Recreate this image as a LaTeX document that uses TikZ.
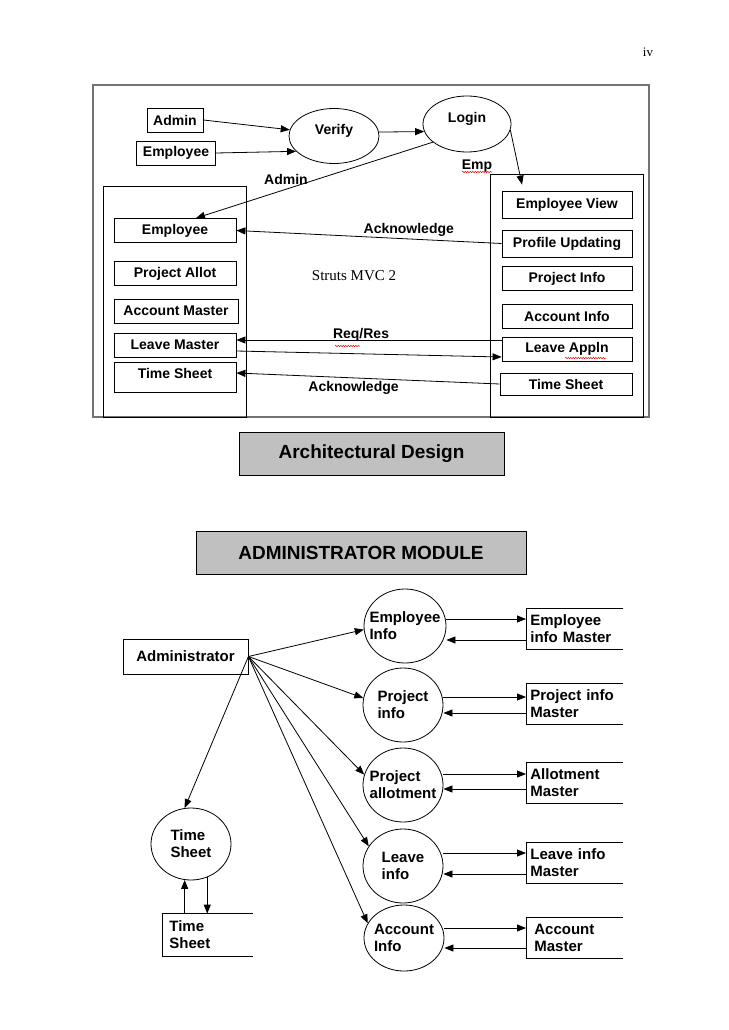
\documentclass[tikz,border=0pt]{standalone}
\usepackage{fontspec}
\setmainfont{Liberation Sans}
\newfontfamily\serifface{Liberation Serif}
\usetikzlibrary{arrows.meta, shapes.geometric, decorations.pathmorphing}
\newcommand\diagtop{\fontsize{14}{16}\selectfont\bfseries}
\newcommand\diaglow{\fontsize{15}{17}\selectfont\bfseries}
\newcommand\diaghead{\fontsize{19}{22}\selectfont\bfseries}
\definecolor{headgray}{RGB}{192,192,192}

\begin{document}
\begin{tikzpicture}[x=1pt,y=-1pt,>={Triangle[length=9pt,width=7pt]},line width=0.8pt,
  box/.style={draw,rectangle,font=\diagtop,minimum height=24pt,inner sep=2pt},
  lbox/.style={box,minimum width=122pt},
  rbox/.style={box,minimum width=130pt},
  oval/.style={draw,ellipse,font=\diagtop,inner sep=0pt,text depth=14pt},
  bubble/.style={draw,ellipse,font=\diaglow,align=left,inner sep=-10pt,minimum width=80pt,minimum height=74pt},
  store/.style={font=\diaglow,align=left,anchor=west,text width=88pt,inner xsep=4pt,minimum height=40pt},
  head/.style={draw,fill=headgray,font=\diaghead,minimum height=43pt},
  lab/.style={font=\diagtop},
  squiggle/.style={red,line width=0.5pt,decorate,decoration={snake,amplitude=0.7pt,segment length=2.5pt}}]

  \useasboundingbox (0,0) rectangle (728,1030);
  \node[font=\serifface\fontsize{13}{15}\selectfont] (page) at (648,52) {iv};

  % architectural design
  \draw[black!55,line width=2pt] (93,85) rectangle (649,417);
  \draw (103,186) rectangle (246,417);
  \draw (490,174) rectangle (643,417);

  \node[box,minimum width=56pt] (admin) at (175,120) {Admin};
  \node[box,minimum width=79pt] (emp) at (176,153) {Employee};
  \node[oval,minimum width=90pt,minimum height=55pt] (verify) at (334,136) {Verify};
  \node[oval,minimum width=88pt,minimum height=56pt] (login) at (467,124) {Login};

  \node[lbox] (lemp) at (175,230.5) {Employee};
  \node[lbox] (lalot) at (175,273.5) {Project Allot};
  \node[lbox,minimum width=124pt] (lacc) at (176,311) {Account Master};
  \node[lbox] (lleave) at (175,345) {Leave Master};
  \node[lbox,minimum height=30pt,text depth=8pt] (ltime) at (175,377) {Time Sheet};

  \node[rbox,minimum height=27pt] (ev) at (567,204.5) {Employee View};
  \node[rbox,minimum height=27pt] (pu) at (567,243.5) {Profile Updating};
  \node[rbox] (pi) at (567,278.5) {Project Info};
  \node[rbox] (ai) at (567,316) {Account Info};
  \node[rbox] (la) at (567,349) {Leave Appln};
  \node[rbox,minimum width=132pt,minimum height=22pt] (rtime) at (566,384) {Time Sheet};

  \node[font=\serifface\fontsize{15}{17}\selectfont] (struts) at (354,276) {Struts MVC 2};
  \node[lab] (emplab) at (477,166) {Emp};

  \path[->] (admin.east) edge (verify.172)
    (emp.east) edge (verify.202)
    (verify.5) edge (login.190)
    (login.208) edge node[lab,pos=0.62,above=1pt] (adminlab) {Admin} ([xshift=21pt]lemp.north)
    (login.352) edge ([shift={(-45pt,6pt)}]ev.north)
    (pu.west) edge node[lab,pos=0.35,above=-1pt] (acklab) {Acknowledge} (lemp.east)
    ([yshift=9pt]la.west) edge node[lab,pos=0.53,above=-5pt] (reqlab) {Req/Res} ([yshift=5pt]lleave.east)
    ([yshift=-6pt]lleave.east) edge ([yshift=-8pt]la.west)
    (rtime.west) edge node[lab,pos=0.555,below] (acklab2) {Acknowledge} ([yshift=4pt]ltime.east);

  \draw[squiggle] (462,172) -- (492,172);
  \draw[squiggle] (335,346) -- (360,346);
  \draw[squiggle] (565,358) -- (606,358);

  \node[head,minimum width=265pt] (archtitle) at (371.5,453.5) {Architectural Design};
  \node[head,minimum width=330pt] (modtitle) at (361,552.5) {ADMINISTRATOR MODULE};

  % administrator module
  \node[box,font=\diaglow,minimum width=125pt,minimum height=35pt] (adm) at (185.5,656.5) {Administrator};
  \node[bubble,minimum width=82pt] (einfo) at (405,626) {Employee\\Info};
  \node[bubble] (pinfo) at (403,705) {Project\\info};
  \node[bubble] (palo) at (403,785) {Project\\allotment};
  \node[bubble] (linfo) at (403,866) {Leave\\info};
  \node[bubble,minimum height=66pt] (ainfo) at (404,938) {Account\\Info};
  \node[bubble,minimum height=72pt] (tsc) at (191,844) {Time\\Sheet};

  \node[store] (eim) at (526,629) {Employee\\info Master};
  \node[store] (pim) at (526,703.5) {Project info\\Master};
  \node[store] (alm) at (526,783) {Allotment\\Master};
  \node[store] (lim) at (526,862.5) {Leave info\\Master};
  \node[store] (acm) at (526,938) {\hspace{4pt}Account\\\hspace{4pt}Master};
  \node[store,text width=76pt,inner xsep=7pt,minimum height=42pt] (tss) at (162,935) {Time\\Sheet};

  \foreach \s in {eim,pim,alm,lim,acm,tss}
    \draw (\s.north east) -- (\s.north west) -- (\s.south west) -- (\s.south east);

  \path[->] (adm.east) edge (einfo.185)
    edge (pinfo.170)
    edge (palo.165)
    edge (linfo.150)
    edge (ainfo.158)
    edge (tsc.100);

  \foreach \c/\s/\ya/\yb in {einfo/eim/619/640, pinfo/pim/697/713, palo/alm/774/789, linfo/lim/853/874, ainfo/acm/928/948}{
    \draw[->] (\c.east |- 0,\ya) -- (\s.west |- 0,\ya);
    \draw[->] (\s.west |- 0,\yb) -- (\c.east |- 0,\yb);
  }

  \draw[->] (tss.north -| tsc.-100) -- (tsc.-100);
  \draw[->] (tsc.-64) -- (tsc.-64 |- tss.north);
\end{tikzpicture}
\end{document}
